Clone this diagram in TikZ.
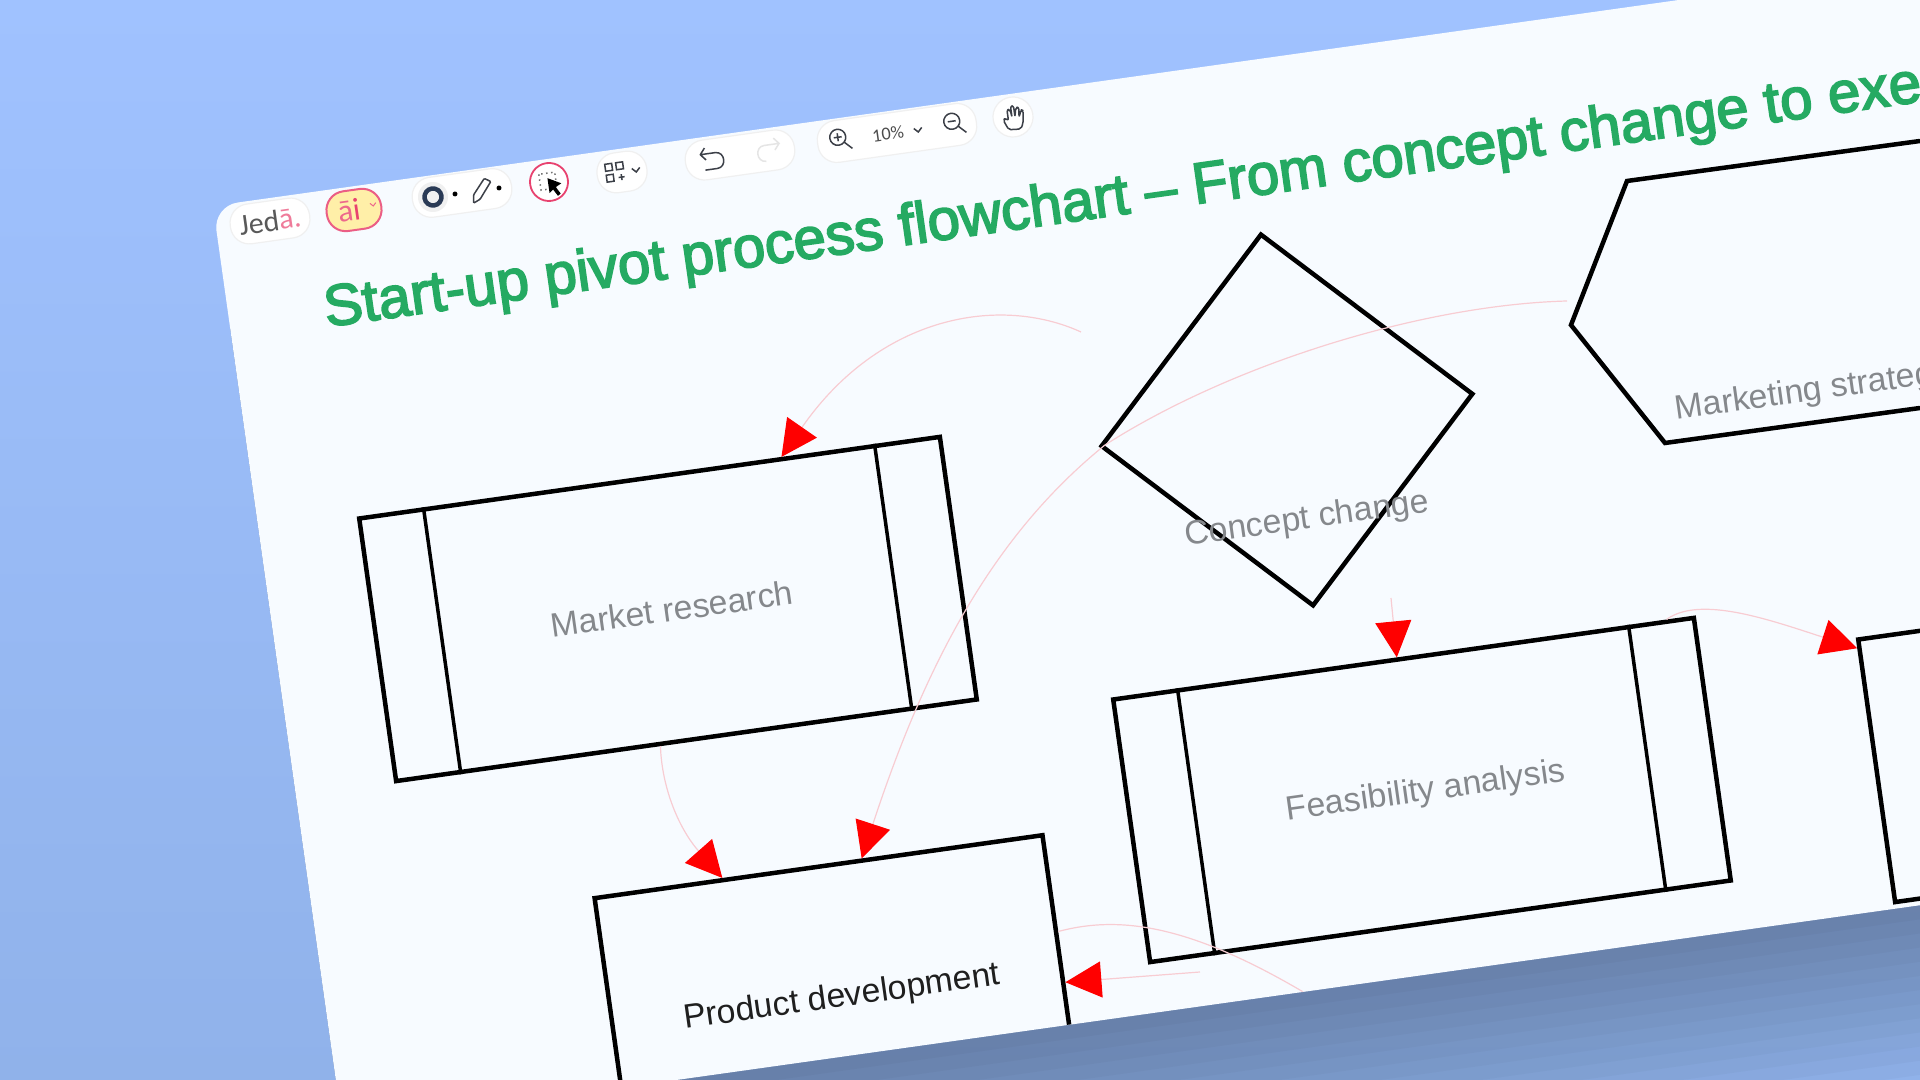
\documentclass[tikz,border=0pt]{standalone}
\usepackage{fontspec}
\setmainfont{Liberation Sans}
\newfontfamily\titlefont{Liberation Sans}[FakeBold=3]
\newfontfamily\uifont{Carlito}
\usetikzlibrary{arrows.meta,calc,shapes.geometric}
\definecolor{backtop}{HTML}{A0C2FF}
\definecolor{backlow}{HTML}{90B2EA}
\definecolor{sheet}{HTML}{F7FBFF}
\definecolor{titlegreen}{HTML}{25AA62}
\definecolor{labelgrey}{HTML}{85888C}
\definecolor{curvepink}{HTML}{F8CCD2}
\definecolor{uipink}{HTML}{E8426F}
\definecolor{uinavy}{HTML}{2A3A55}
\definecolor{uiline}{HTML}{3C4048}
\definecolor{aiyellow}{HTML}{FFEFA8}
\tikzset{
    boxline/.style = {black, line width=.045cm},
    barline/.style = {black, line width=.035cm},
    procbox/.style = {boxline, draw, rectangle, rotate=8, minimum width=5.86cm, minimum height=2.65cm, inner sep=0pt},
    boxlabel/.style = {rotate=8, text=labelgrey, font=\fontsize{9.6}{11}\selectfont, inner sep=0pt},
    curve/.style = {curvepink, line width=.012cm},
    redarrow/.style = {curve, -{Triangle[length=.36cm,width=.36cm,color=red,fill=red]}},
    pill/.style = {draw=black!6, fill=white, line width=.012cm, rotate=8, rounded corners=.19cm, minimum height=.4cm, inner sep=0pt},
    icon/.style = {shift={#1}, rotate=8, uiline, line width=.015cm},
}
\begin{document}
\begin{tikzpicture}[x=.01cm,y=-.01cm]
    \useasboundingbox (0,0) rectangle (1920,1080);
    \clip (0,0) rectangle (1920,1080);
    \shade[top color=backtop, bottom color=backlow] (0,0) rectangle (1920,1080);
    % sheet and its shadow
    \begin{scope}[shift={(213,206)},rotate=8]
        \foreach \d in {14,28,...,168}
            \fill[black,opacity=.023,rounded corners=.25cm] (0,100) rectangle (1900,930+\d);
        \fill[sheet,rounded corners=.25cm] (0,0) rectangle (1900,930);
    \end{scope}
    \begin{scope}
        \clip[rounded corners=.25cm] (213,206) -- (2095,-59) -- (2224,862) -- (342,1127) -- cycle;
        \node[anchor=base west, rotate=8.05, text=titlegreen, inner sep=0pt, font=\titlefont\fontsize{16.5}{20}\selectfont] (title) at (326,327) {Start-up pivot process flowchart – From concept change to exe};

        % boxes
        \node[procbox] (mkt) at (668,609) {};
        \node[procbox] (feas) at (1422,790) {};
        \node[procbox] (nextbox) at (2167,730) {};
        \node[procbox, minimum width=4.52cm] (prod) at (837,998) {};
        \node[boxline, draw, diamond, rotate=8, minimum width=3.76cm, minimum height=3.76cm, inner sep=0pt] (concept) at (1287,420) {};
        \draw[boxline] (1920,141) -- (1627,181) -- (1571,325) -- (1665,443) -- (1920,408);
        \foreach \n in {mkt,feas,nextbox} {
            \draw[barline] ($(\n.north west)!.114!(\n.north east)$) -- ($(\n.south west)!.114!(\n.south east)$);
            \draw[barline] ($(\n.north west)!.885!(\n.north east)$) -- ($(\n.south west)!.885!(\n.south east)$);
        }

        % labels
        \node[boxlabel] (mktlabel) at (672,609) {Market research};
        \node[boxlabel] (feaslabel) at (1426,792) {Feasibility analysis};
        \node[boxlabel] (conceptlabel) at (1307,520) {Concept change};
        \node[boxlabel, anchor=base west] (stratlabel) at (1676,420) {Marketing strategy};
        \node[boxlabel, text=black!88] (prodlabel) at (842,998) {Product development};

        % connectors
        \coordinate (mkttop) at ($(mkt.north west)!.726!(mkt.north east)$);
        \coordinate (mktlow) at ($(mkt.south west)!.455!(mkt.south east)$);
        \coordinate (prodtopa) at ($(prod.north west)!.288!(prod.north east)$);
        \coordinate (prodtopb) at ($(prod.north west)!.596!(prod.north east)$);
        \coordinate (prodside) at ($(prod.north east)!.56!(prod.south east)$);
        \coordinate (prodout) at ($(prod.north east)!.37!(prod.south east)$);
        \coordinate (feastop) at ($(feas.north west)!.489!(feas.north east)$);
        \coordinate (feasout) at ($(feas.north west)!.95!(feas.north east)$);
        \coordinate (nextin) at ($(nextbox.north west)!.04!(nextbox.south west)$);
        \coordinate (hexleft) at (1567,301);
        \coordinate (conceptoff) at (1081,332);
        \coordinate (conceptlow) at (1391,598);
        \coordinate (shortstart) at (1200,972);
        \coordinate (prodend) at (1305,993);

        \draw[redarrow] (conceptoff) .. controls (1000,295) and (880,315) .. (mkttop);
        \draw[redarrow] (hexleft) .. controls (1420,305) and (1230,365) .. (1105,445) .. controls (1000,530) and (930,650) .. (prodtopb);
        \draw[redarrow] (mktlow) .. controls (662,790) and (680,830) .. (prodtopa);
        \draw[redarrow] (conceptlow) -- (feastop);
        \draw[redarrow] (feasout) .. controls (1700,595) and (1770,620) .. (nextin);
        \draw[redarrow] (shortstart) -- (prodside);
        \draw[curve] (prodout) .. controls (1120,915) and (1190,925) .. (prodend);

        % toolbar
        \node[pill, minimum width=.8cm] (jeda) at (270,221) {\uifont\fontsize{8.5}{9}\selectfont\textcolor{black!65}{Jed}\textcolor{uipink!70}{ā.}};
        \node[draw=uipink!85, fill=aiyellow, line width=.02cm, rotate=8, rounded corners=.19cm, minimum width=.55cm, minimum height=.4cm, inner sep=0pt] (aibtn) at (354,210) {\hspace{-.1cm}\uifont\fontsize{9}{9}\selectfont\textcolor{uipink!80}{ā}\textcolor{uipink}{i}};
        \node[pill, minimum width=1cm] (penbar) at (462,193) {};
        \node[pill, circle, minimum size=.38cm, draw=uipink, line width=.018cm] (selectbtn) at (549,182) {};
        \node[pill, minimum width=.5cm] (gridbar) at (622,172) {};
        \node[pill, minimum width=1.1cm] (undobar) at (740,155) {};
        \node[pill, minimum width=1.6cm, minimum height=.42cm] (zoombar) at (897,133) {};
        \node[pill, circle, minimum size=.4cm] (handbtn) at (1013,117) {};
        \node[rotate=8, inner sep=0pt, text=black!70, font=\uifont\fontsize{5.2}{6}\selectfont] (zoomval) at (888,134) {10\%};

        \draw[icon={(433,197)}, fill=black!6, draw=none] (0,0) circle[radius=.15cm];
        \draw[icon={(433,197)}, uinavy, line width=.045cm] (0,0) circle[radius=.085cm];
        \fill[icon={(455,194)}, black] (0,0) circle[radius=.025cm];
        \fill[icon={(499,188)}, black] (0,0) circle[radius=.025cm];
        \draw[icon={(481,191)}, rounded corners=.01cm] (-9,11) -- (-8,3) -- (5,-12) -- (11,-8) -- (-2,8) -- cycle;
        \draw[icon={(549,182)}, black!55, densely dotted] (-9,-9) rectangle (7,7);
        \fill[icon={(549,182)}, black] (-1,-4) -- (12,3) -- (6,6) -- (10,13) -- (7,15) -- (3,8) -- (-1,11) -- cycle;
        \draw[icon={(615,173)}] (-9,-10) rectangle (-2,-3) (2,-10) rectangle (9,-3) (-9,1) rectangle (-2,8) (3,5) -- (9,5) (6,2) -- (6,8);
        \draw[icon={(636,170)}] (-4,-2) -- (0,2) -- (4,-2);
        \draw[icon={(373,204)}, uipink!80, line width=.01cm] (-3,-1) -- (0,2) -- (3,-1);
        \draw[icon={(713,159)}, line join=round] (-7,-12) -- (-12,-6) -- (-7,0) (-12,-6) -- (3,-6) .. controls (13,-6) and (13,10) .. (3,10) -- (-9,10);
        \draw[icon={(768,151)}, black!10] (7,-12) -- (12,-6) -- (7,0) (12,-6) -- (-3,-6) .. controls (-13,-6) and (-13,10) .. (-3,10) -- (-3,10);
        \draw[icon={(840,139)}] (-2,-2) circle[radius=.08cm] (4,4) -- (11,11) (-6,-2) -- (2,-2) (-2,-6) -- (-2,2);
        \draw[icon={(954,123)}] (-2,-2) circle[radius=.08cm] (4,4) -- (11,11) (-6,-2) -- (2,-2);
        \draw[icon={(918,130)}] (-4,-2) -- (0,2) -- (4,-2);
        \draw[icon={(1013,117)}, rounded corners=.02cm, line join=round] (-6,12) -- (-10,2) -- (-8,0) -- (-5,3) -- (-5,-8) -- (-2,-8) -- (-1,0) -- (-1,-11) -- (2,-11) -- (2,0) -- (4,-9) -- (7,-9) -- (6,1) -- (9,-6) -- (11,-5) -- (9,8) -- (6,13) -- cycle;
    \end{scope}
\end{tikzpicture}
\end{document}
